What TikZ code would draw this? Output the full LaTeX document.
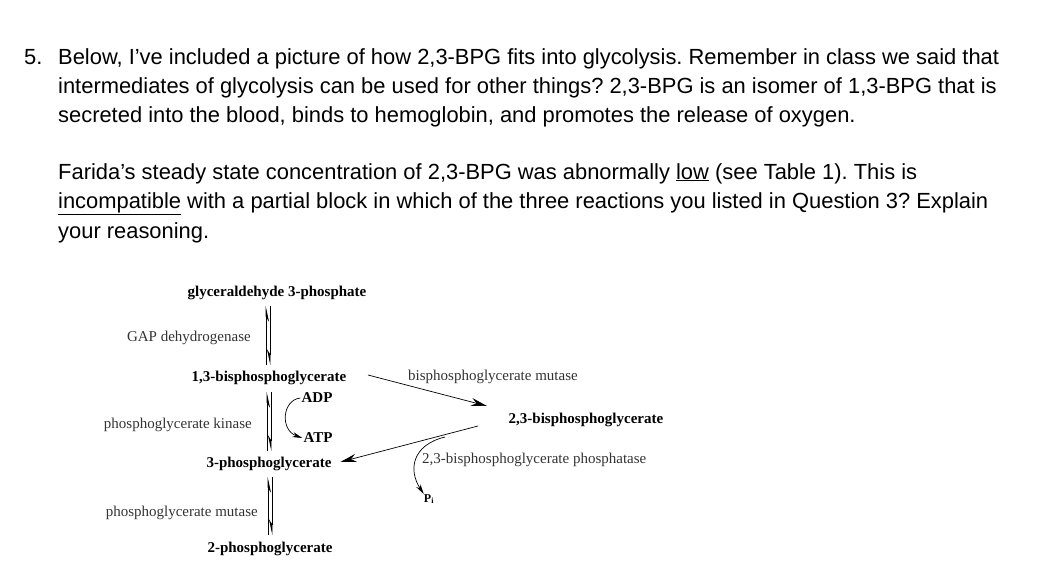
\documentclass[tikz,border=0pt]{standalone}
\usepackage{fontspec}
\setmainfont{Liberation Sans}
\newfontfamily\dfont{Liberation Serif}
\usetikzlibrary{arrows.meta}
\frenchspacing
\tikzset{
 para/.style={anchor=base west,font=\fontsize{21.9}{26}\selectfont,inner sep=0},
 met/.style={font=\dfont\bfseries\fontsize{15}{17}\selectfont,inner sep=1pt},
 enz/.style={font=\dfont\fontsize{15}{17}\selectfont,text=black!80,inner sep=1pt},
 eq/.style={line width=0.7pt},
 hu/.style={-{Stealth[harpoon,swap,length=14pt,width=6pt]}},
 ar/.style={line width=0.7pt,-{Stealth[length=16pt,width=8pt]}},
}
\newcommand\eqarrow[3]{%
 \draw[eq,hu] (#1-2,#3) -- (#1-2,#2);
 \draw[eq,hu] (#1+2,#2) -- (#1+2,#3);}
\begin{document}
\begin{tikzpicture}[x=1pt,y=-1pt]
\useasboundingbox (0,0) rectangle (1046,586);
\node[para] (l0) at (24,64) {5.};
\node[para] (l1) at (58,64) {Below, I’ve included a picture of how 2,3-BPG fits into glycolysis. Remember in class we said that};
\node[para] (l2) at (58,93) {intermediates of glycolysis can be used for other things? 2,3-BPG is an isomer of 1,3-BPG that is};
\node[para] (l3) at (58,122) {secreted into the blood, binds to hemoglobin, and promotes the release of oxygen.};
\node[para] (l4) at (58,179) {Farida’s steady state concentration of 2,3-BPG was abnormally \underline{low} (see Table 1).  This is};
\node[para] (l5) at (58,208) {\underline{incompatible} with a partial block in which of the three reactions you listed in Question 3?  Explain};
\node[para] (l6) at (58,238) {your reasoning.};

\node[met] (g3p) at (277,293) {glyceraldehyde 3-phosphate};
\node[met] (bpg13) at (269,378) {1,3-bisphosphoglycerate};
\node[met] (pg3) at (269,464) {3-phosphoglycerate};
\node[met] (pg2) at (270,549) {2-phosphoglycerate};
\node[met] (bpg23) at (586,420) {2,3-bisphosphoglycerate};
\node[met] (adp) at (317,398) {ADP};
\node[met] (atp) at (318,438) {ATP};
\node[enz,anchor=east] (e1) at (252,338) {GAP dehydrogenase};
\node[enz,anchor=east] (e2) at (253,425) {phosphoglycerate kinase};
\node[enz,anchor=east] (e3) at (259,513) {phosphoglycerate mutase};
\node[enz] (e4) at (493,377) {bisphosphoglycerate mutase};
\node[enz,anchor=west] (e5) at (421,460) {2,3-bisphosphoglycerate phosphatase};
\node[font=\dfont\bfseries\fontsize{12}{14}\selectfont,inner sep=0] (pi) at (429,499) {P\textsubscript{i}};

\eqarrow{268}{306}{365}
\eqarrow{269}{392}{451}
\eqarrow{270}{477}{535}

\draw[line width=0.7pt,-{Stealth[length=10pt,width=5pt]}] (adp.west) .. controls (282,400) and (280,430) .. (atp.west);
\coordinate (m1) at (368,375);
\draw[ar] (m1) -- (487,406);
\coordinate (s) at (478,426);
\draw[ar,shorten >=8pt] (s) -- (pg3.east);
\draw[line width=0.7pt,-{Stealth[length=10pt,width=5pt]}] (445,437) .. controls (412,445) and (408,470) .. (pi.north west);
\end{tikzpicture}
\end{document}
